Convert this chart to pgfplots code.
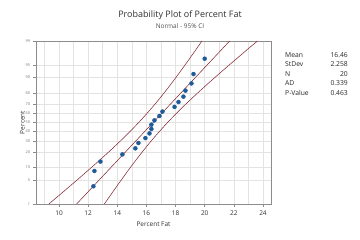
\documentclass[border=0pt]{standalone}
\usepackage{pgfplots}
\pgfplotsset{compat=1.18}
\usepackage{pgfplotstable}
\usepackage{fontspec}
\setmainfont{Open Sans}
\definecolor{dotblue}{HTML}{1F5B99}
\definecolor{cired}{HTML}{7F1D2A}
\definecolor{gridgray}{HTML}{E3E3E3}
\definecolor{axgray}{HTML}{8C8C8C}
\definecolor{txt}{HTML}{303030}
% data: Percent Fat vs normal score of median-rank plotting position
\pgfplotstableread{
x z
12.36 -1.8205
12.43 -1.383
12.84 -1.115
14.35 -0.910
15.24 -0.7375
15.45 -0.5845
15.93 -0.445
16.21 -0.312
16.34 -0.185
16.34 -0.0615
16.55 0.0615
16.89 0.185
17.10 0.312
17.93 0.445
18.20 0.5845
18.54 0.7375
18.68 0.910
19.09 1.115
19.23 1.383
20.00 1.8205
}\pts
\pgfplotstableread{
z fit lo hi
-2.326 11.208 9.303 13.113
-2.0 11.944 10.230 13.658
-1.5 13.073 11.630 14.516
-1.0 14.202 12.990 15.414
-0.5 15.331 14.281 16.381
0.0 16.460 15.470 17.450
0.5 17.589 16.539 18.639
1.0 18.718 17.506 19.930
1.5 19.847 18.404 21.290
2.0 20.976 19.262 22.690
2.326 21.712 19.807 23.617
}\fitline
\begin{document}
\begin{tikzpicture}
\useasboundingbox (0,0) rectangle (360bp,240bp);
\begin{axis}[
  at={(36bp,36bp)}, anchor=south west,
  scale only axis, width=235bp, height=163bp,
  xmin=8.42, xmax=24.55, ymin=-2.326, ymax=2.326,
  xtick={10,12,...,24},
  minor xtick={9,10,...,24},
  ytick={-2.326,-1.645,-1.2816,-0.8416,-0.5244,-0.2533,0,0.2533,0.5244,0.8416,1.2816,1.645,2.326},
  yticklabels={1,5,10,20,30,40,50,60,70,80,90,95,99},
  grid=both,
  major grid style={gridgray, line width=0.5pt},
  minor grid style={gridgray, line width=0.5pt},
  axis line style={axgray, line width=0.7pt},
  tick style={axgray, line width=0.5pt},
  tick align=outside, major tick length=2.5bp, minor tick length=0pt,
  xtick pos=bottom, ytick pos=left,
  /pgf/number format/assume math mode=true,
  x tick label style={font=\fontsize{6.5}{7}\selectfont, text=txt, yshift=-1bp},
  y tick label style={font=\fontsize{3.8}{4}\selectfont, text=txt!70},
  xlabel={Percent Fat}, ylabel={Percent},
  xlabel style={font=\fontsize{6.5}{7}\selectfont, text=txt, yshift=1bp},
  ylabel style={font=\fontsize{6.5}{7}\selectfont, text=txt, yshift=-6bp},
  clip=true,
]
\addplot[cired, line width=0.5pt, smooth] table[x=lo, y=z] {\fitline};
\addplot[cired, line width=0.5pt] table[x=fit, y=z] {\fitline};
\addplot[cired, line width=0.5pt, smooth] table[x=hi, y=z] {\fitline};
\addplot[only marks, mark=*, mark size=2bp, mark options={fill=dotblue, draw=dotblue}] table[x=x, y=z] {\pts};
\end{axis}
\node[font=\fontsize{9}{10}\selectfont, text=txt] at (180bp,225bp) {Probability Plot of Percent Fat};
\node[font=\fontsize{6.5}{7}\selectfont, text=txt!85] at (180bp,213.5bp) {Normal - 95\% CI};
\begin{scope}[every node/.style={font=\fontsize{6.8}{8}\selectfont, text=black!85, inner sep=0pt}]
\node[anchor=west] at (285bp,185bp) {Mean};
\node[anchor=west] at (285bp,175.5bp) {StDev};
\node[anchor=west] at (285bp,166bp) {N};
\node[anchor=west] at (285bp,156.5bp) {AD};
\node[anchor=west] at (285bp,147bp) {P-Value};
\node[anchor=east] at (348bp,185bp) {16.46};
\node[anchor=east] at (348bp,175.5bp) {2.258};
\node[anchor=east] at (348bp,166bp) {20};
\node[anchor=east] at (348bp,156.5bp) {0.339};
\node[anchor=east] at (348bp,147bp) {0.463};
\end{scope}
\end{tikzpicture}
\end{document}
